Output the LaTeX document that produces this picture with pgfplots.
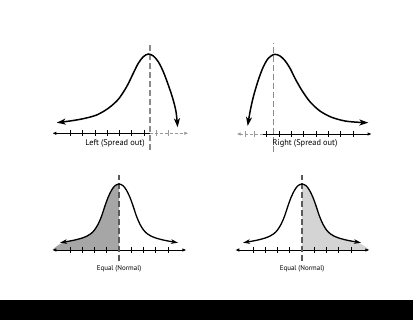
\documentclass[border=0pt]{standalone}
\usepackage{pgfplots}
\pgfplotsset{compat=1.18}
\usetikzlibrary{arrows.meta}
\usepackage{fontspec}
\setmainfont{PT Sans}
\definecolor{dashgray}{HTML}{8A8A8A}
\definecolor{dashdark}{HTML}{5A5A5A}
\definecolor{faint}{HTML}{9A9A9A}
\definecolor{darkfill}{HTML}{A6A6A6}
\definecolor{lightfill}{HTML}{D4D4D4}
\pgfplotsset{
  panel/.style={hide axis, scale only axis, clip=false, enlargelimits=false,
    anchor=south west, ymin=0, ymax=0.95, y=100bp},
  curve/.style={black, line width=1.5bp, smooth, no markers},
  bigarrows/.style={{Stealth[length=9bp,width=6bp,inset=2.5bp]}-{Stealth[length=9bp,width=6bp,inset=2.5bp]}},
  smallarrows/.style={{Stealth[length=7bp,width=4.5bp,inset=2bp]}-{Stealth[length=7bp,width=4.5bp,inset=2bp]}},
  axisline/.style={black, line width=0.9bp, no markers},
  ticks/.style={only marks, mark=|, mark size=3bp, mark options={line width=0.9bp}},
  vdash/.style={dashgray, line width=1.5bp, dash pattern=on 6bp off 3bp, no markers},
}
\tikzset{lbl/.style={font=\fontsize{8.4}{9}\selectfont},
  slbl/.style={font=\fontsize{7}{8}\selectfont}}
\begin{document}
\begin{tikzpicture}
\fill[white] (0,0) rectangle (413bp,320bp);
\useasboundingbox (0,0) rectangle (413bp,320bp);
\fill[black] (0,0) rectangle (413bp,20bp);

% ---------- Top left: Left (Spread out) ----------
\begin{axis}[panel, x=12.25bp, xmin=-1.5, xmax=9.6, at={(52.3bp,186.7bp)}]
\addplot[axisline, {Latex[length=4bp,width=3.5bp]}-] coordinates {(-1.5,0) (6.47,0)};
\addplot[faint, line width=0.9bp, dash pattern=on 3bp off 2bp, -{Latex[length=4bp,width=3.5bp]}, no markers] coordinates {(6.47,0) (9.6,0)};
\addplot[ticks, black] coordinates {(0,0) (1,0) (2,0) (3,0) (4,0) (5,0) (6,0)};
\addplot[ticks, faint] coordinates {(7,0) (8,0)};
\addplot[vdash] coordinates {(6.47,-0.17) (6.47,0.90)};
\addplot[curve, bigarrows] coordinates {
 (-1.14,0.106) (-0.06,0.123) (1.03,0.146) (2.12,0.183) (3.07,0.25) (3.89,0.34)
 (4.57,0.466) (5.11,0.60) (5.52,0.70) (5.93,0.766) (6.34,0.793) (6.75,0.773)
 (7.15,0.716) (7.56,0.616) (7.97,0.483) (8.33,0.35) (8.6,0.216) (8.73,0.06)};
\node[lbl] at (axis cs:3.62,-0.10) {Left (Spread out)};
\end{axis}

% ---------- Top right: Right (Spread out) ----------
\begin{axis}[panel, x=12.35bp, xmin=-2.43, xmax=8.5, at={(236.7bp,186bp)}]
\addplot[faint, line width=0.9bp, dash pattern=on 3bp off 2bp, {Latex[length=4bp,width=3.5bp]}-, no markers] coordinates {(-2.43,0) (-0.3,0)};
\addplot[axisline, -{Latex[length=4bp,width=3.5bp]}] coordinates {(-0.3,0) (8.5,0)};
\addplot[ticks, black] coordinates {(0,0) (1,0) (2,0) (3,0) (4,0) (5,0) (6,0) (7,0)};
\addplot[ticks, faint] coordinates {(-1,0) (-1.7,0)};
\addplot[vdash] coordinates {(0.54,-0.18) (0.54,0.91)};
\addplot[curve, bigarrows] coordinates {
 (-1.54,0.08) (-1.35,0.223) (-1.08,0.373) (-0.68,0.54) (-0.27,0.673) (0.13,0.757)
 (0.62,0.797) (1.08,0.78) (1.48,0.733) (1.89,0.657) (2.29,0.557) (2.83,0.44)
 (3.5,0.323) (4.31,0.23) (5.26,0.167) (6.34,0.13) (7.42,0.117) (8.23,0.113)};
\node[lbl] at (axis cs:3.1,-0.09) {Right (Spread out)};
\end{axis}

% ---------- Bottom left: Equal (Normal), left half shaded ----------
\begin{axis}[panel, x=12.25bp, xmin=-5.45, xmax=5.5, ymax=0.8, at={(52.25bp,70bp)}]
\addplot[draw=none, fill=darkfill, smooth] coordinates {
 (-5.45,0) (-4.82,0.06) (-4.0,0.09) (-3.5,0.103) (-3.0,0.12) (-2.6,0.14)
 (-2.3,0.163) (-2.0,0.2) (-1.7,0.26) (-1.42,0.34) (-1.15,0.44) (-0.88,0.53)
 (-0.6,0.60) (-0.33,0.643) (0,0.66)} \closedcycle;
\addplot[axisline, {Latex[length=4bp,width=3.5bp]}-{Latex[length=4bp,width=3.5bp]}] coordinates {(-5.45,0) (5.5,0)};
\addplot[ticks, black] coordinates {(-4,0) (-3,0) (-2,0) (-1,0) (1,0) (2,0) (3,0) (4,0)};
\addplot[vdash, dashdark, line width=1.3bp] coordinates {(0,-0.107) (0,0.75)};
\addplot[curve, line width=1.3bp, smallarrows] coordinates {
 (-4.82,0.073) (-4.0,0.09) (-3.5,0.103) (-3.0,0.12) (-2.6,0.14) (-2.3,0.163)
 (-2.0,0.2) (-1.7,0.26) (-1.42,0.34) (-1.15,0.44) (-0.88,0.53) (-0.6,0.60)
 (-0.33,0.643) (0,0.66)
 (0.33,0.643) (0.6,0.60) (0.88,0.53) (1.15,0.44) (1.42,0.34) (1.7,0.26)
 (2.0,0.2) (2.3,0.163) (2.6,0.14) (3.0,0.12) (3.5,0.103) (4.0,0.09) (4.82,0.073)};
\node[slbl] at (axis cs:0,-0.183) {Equal (Normal)};
\end{axis}

% ---------- Bottom right: Equal (Normal), right half shaded ----------
\begin{axis}[panel, x=12.25bp, xmin=-5.45, xmax=5.5, ymax=0.8, at={(235.25bp,70bp)}]
\addplot[draw=none, fill=lightfill, smooth] coordinates {
 (0,0.66) (0.33,0.643) (0.6,0.60) (0.88,0.53) (1.15,0.44) (1.42,0.34)
 (1.7,0.26) (2.0,0.2) (2.3,0.163) (2.6,0.14) (3.0,0.12) (3.5,0.103)
 (4.0,0.09) (4.82,0.06) (5.5,0)} \closedcycle;
\addplot[axisline, {Latex[length=4bp,width=3.5bp]}-{Latex[length=4bp,width=3.5bp]}] coordinates {(-5.45,0) (5.5,0)};
\addplot[ticks, black] coordinates {(-4,0) (-3,0) (-2,0) (-1,0) (1,0) (2,0) (3,0) (4,0)};
\addplot[vdash, dashdark, line width=1.3bp] coordinates {(0,-0.107) (0,0.75)};
\addplot[curve, line width=1.3bp, smallarrows] coordinates {
 (-4.82,0.073) (-4.0,0.09) (-3.5,0.103) (-3.0,0.12) (-2.6,0.14) (-2.3,0.163)
 (-2.0,0.2) (-1.7,0.26) (-1.42,0.34) (-1.15,0.44) (-0.88,0.53) (-0.6,0.60)
 (-0.33,0.643) (0,0.66)
 (0.33,0.643) (0.6,0.60) (0.88,0.53) (1.15,0.44) (1.42,0.34) (1.7,0.26)
 (2.0,0.2) (2.3,0.163) (2.6,0.14) (3.0,0.12) (3.5,0.103) (4.0,0.09) (4.82,0.073)};
\node[slbl] at (axis cs:0,-0.183) {Equal (Normal)};
\end{axis}
\end{tikzpicture}
\end{document}
